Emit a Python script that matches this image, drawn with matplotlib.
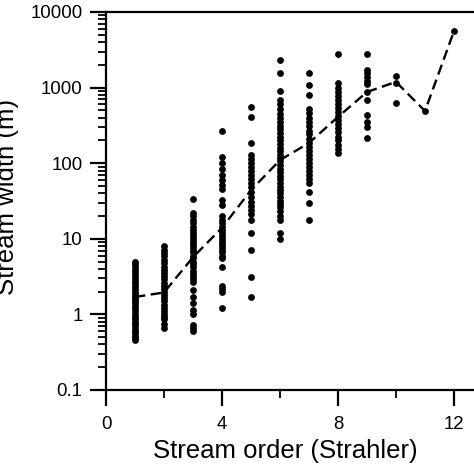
import matplotlib
matplotlib.use("Agg")
import matplotlib.pyplot as plt
from matplotlib.ticker import FixedLocator, LogLocator, NullFormatter, FixedFormatter

plt.rcParams['font.family'] = ['Liberation Sans', 'DejaVu Sans']

# stream widths (m) observed for each Strahler order
w1 = [5.0, 4.6, 4.2, 3.9, 3.6, 3.3, 3.0, 2.8, 2.6, 2.4, 2.2, 2.0, 1.85, 1.7, 1.6,
      1.5, 1.4, 1.3, 1.2, 1.1, 1.0, 0.93, 0.87, 0.8, 0.75, 0.7, 0.65, 0.6, 0.56,
      0.52, 0.49, 0.46]
w2 = [8.0, 7.2, 6.5, 5.9, 5.3, 4.8, 4.3, 3.9, 3.5, 3.2, 2.9, 2.6, 2.4, 2.2, 2.0,
      1.8, 1.65, 1.5, 1.35, 1.2, 1.1, 1.0, 0.93, 0.87, 0.75, 0.66]
w3 = [34, 22, 20, 18, 16, 14.5, 13, 12, 11, 10, 9.2, 8.5, 7.8, 7.2, 6.6, 6.0, 5.5,
      5.0, 4.6, 4.2, 3.8, 3.5, 3.2, 2.9, 2.7, 2.1, 1.7, 1.4, 1.15, 1.0, 0.72,
      0.66, 0.6]
w4 = [270, 120, 100, 85, 70, 60, 52, 45, 33, 28, 20, 18, 16, 14.5, 13, 12, 11, 10,
      9.2, 8.5, 7.8, 7.2, 6.6, 6.0, 5.5, 4.2, 2.4, 2.2, 2.0, 1.2]
w5 = [550, 410, 185, 130, 115, 100, 90, 80, 70, 62, 55, 48, 42, 36, 31, 27, 24,
      21, 18, 12, 7.1, 3.1, 1.7]
w6 = [2300, 1550, 900, 690, 600, 520, 450, 400, 350, 310, 280, 250, 225, 200, 180,
      160, 145, 130, 118, 106, 95, 85, 76, 68, 61, 55, 49, 44, 40, 36, 32, 29, 26,
      23, 20, 18, 12, 10]
w7 = [1550, 1080, 800, 520, 460, 400, 350, 310, 270, 240, 210, 185, 165, 145, 128,
      112, 100, 88, 78, 69, 61, 55, 41, 30, 18]
w8 = [2750, 1150, 1000, 880, 780, 690, 610, 540, 480, 420, 370, 330, 290, 255,
      225, 200, 175, 155, 136]
w9 = [2780, 1710, 1550, 1380, 1220, 1110, 875, 685, 433, 350, 300, 215]
w10 = [1420, 1150, 625]
w11 = [490]
w12 = [5600]
widths = [w1, w2, w3, w4, w5, w6, w7, w8, w9, w10, w11, w12]

orders = list(range(1, 13))
mean_width = [1.7, 1.95, 5.7, 14, 44, 110, 185, 410, 875, 1190, 490, 5600]

fig = plt.figure(figsize=(4.74, 4.74), dpi=100)
ax = fig.add_axes([106 / 474, 84 / 474, 29 * 13.5 / 474, 378 / 474])

for o, w in zip(orders, widths):
    ax.scatter([o] * len(w), w, s=24, color='black', linewidths=0, zorder=3)

ax.plot(orders, mean_width, color='black', linewidth=1.7, dashes=(4.4, 2.3), zorder=4)

ax.set_yscale('log')
ax.set_ylim(0.1, 10000)
ax.set_xlim(0, 13.5)

ax.xaxis.set_major_locator(FixedLocator([0, 4, 8, 12]))
ax.xaxis.set_minor_locator(FixedLocator([2, 6, 10]))
ax.yaxis.set_major_locator(FixedLocator([0.1, 1, 10, 100, 1000, 10000]))
ax.yaxis.set_major_formatter(FixedFormatter(['0.1', '1', '10', '100', '1000', '10000']))
ax.yaxis.set_minor_locator(LogLocator(base=10, subs=range(2, 10), numticks=20))
ax.yaxis.set_minor_formatter(NullFormatter())

ax.spines['right'].set_visible(False)
for s in ['left', 'bottom', 'top']:
    ax.spines[s].set_linewidth(1.6)

ax.tick_params(which='major', direction='out', length=11.5, width=1.6,
               labelsize=13.4, colors='black')
ax.tick_params(which='minor', direction='out', length=5.8, width=1.3)
ax.tick_params(axis='y', which='major', pad=5.5)
ax.tick_params(axis='x', which='major', pad=7.5)
ax.tick_params(top=False, right=False, which='both')

fig.text(285 / 474, (474 - 458) / 474, 'Stream order (Strahler)', fontsize=18.5,
         ha='center', va='baseline')
fig.text(14 / 474, (474 - 197) / 474, 'Stream width (m)', fontsize=18.5,
         ha='center', va='baseline', rotation=90, rotation_mode='anchor')

fig.savefig('out.png', dpi=100)
